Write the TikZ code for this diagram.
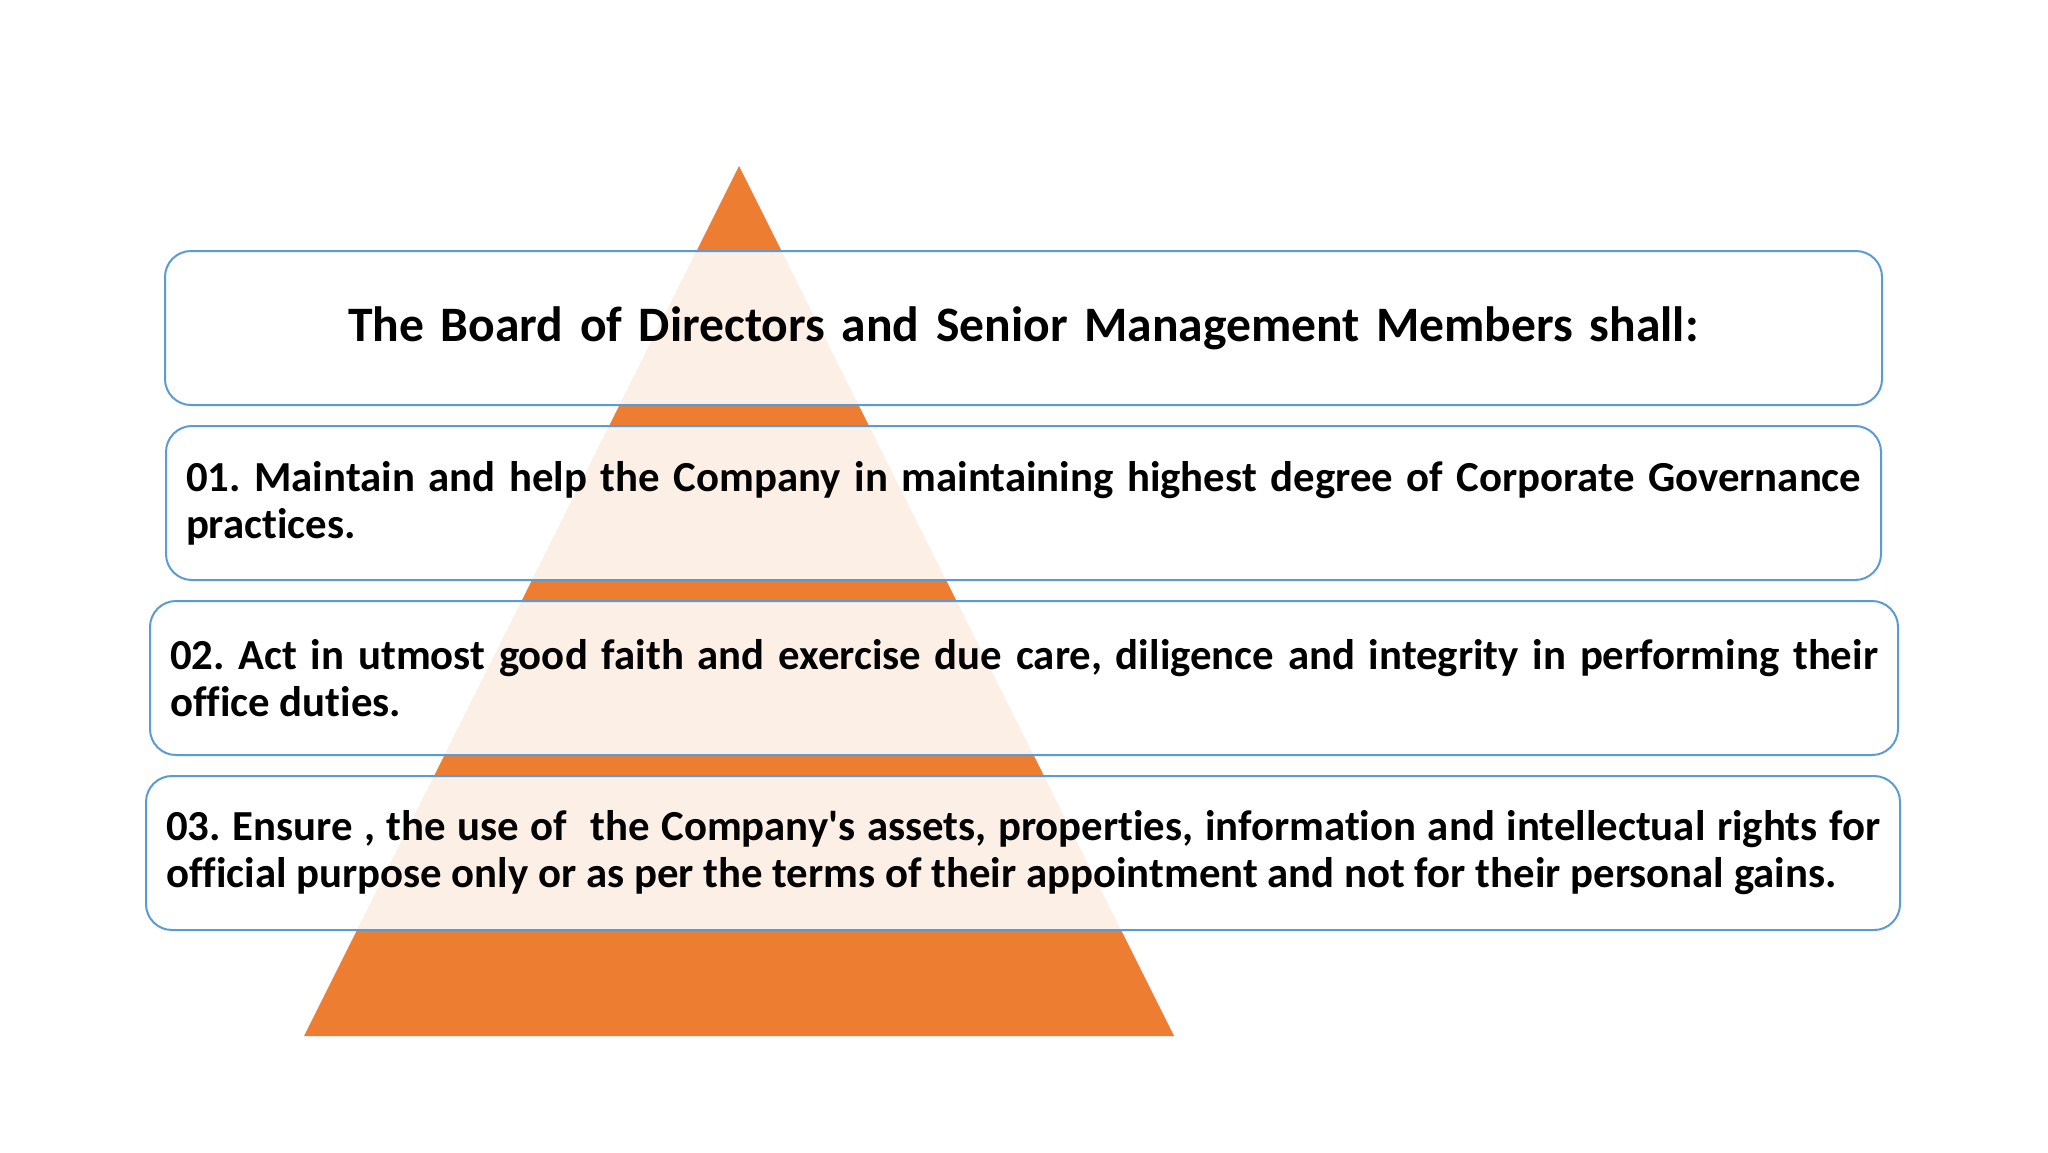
\documentclass[tikz,border=0pt]{standalone}
\usepackage{fontspec}
\setmainfont{Carlito}[Ligatures={NoCommon}]
\definecolor{pyr}{HTML}{ED7D31}
\definecolor{edge}{HTML}{5B9BD5}
\tikzset{
  card/.style={draw=edge, line width=1pt, fill=white, fill opacity=0.88, text opacity=1,
    rounded corners=13pt, minimum height=77pt, inner xsep=10pt, inner ysep=0pt,
    font=\bfseries\fontsize{21.4}{23.5}\selectfont, align=justify},
  titlecard/.style={card, align=center, font=\bfseries\fontsize{24.8}{29}\selectfont}
}
\begin{document}
\frenchspacing
\begin{tikzpicture}[x=0.5pt, y=-0.5pt]
\useasboundingbox (0,0) rectangle (2048,1152);
\fill[white] (0,0) rectangle (2048,1152);
\coordinate (apex) at (739,166);
\coordinate (bl) at (304,1036);
\coordinate (br) at (1174,1036);
\fill[pyr] (apex) -- (br) -- (bl) -- cycle;
\node[titlecard, minimum width=858.5pt, text width=838.5pt] (t) at (1023.5,328)
  {\raisebox{-1.5pt}{The Board of Directors and Senior Management Members shall:}};
\node[card, minimum width=857.5pt, text width=837.5pt] (a) at (1023.5,503)
  {01. Maintain and help the Company in maintaining highest degree of Corporate Governance\linebreak practices.};
\node[card, minimum width=874pt, text width=854pt] (b) at (1024,678)
  {02. Act in utmost good faith and exercise due care, diligence and integrity in performing their\linebreak office duties.};
\node[card, minimum width=877pt, text width=857pt] (c) at (1023,853)
  {03. Ensure , the use of\ \ the Company\textquotesingle s assets, properties, information and intellectual rights for\linebreak official purpose only or as per the terms of their appointment and not for their personal gains.};
\end{tikzpicture}
\end{document}
